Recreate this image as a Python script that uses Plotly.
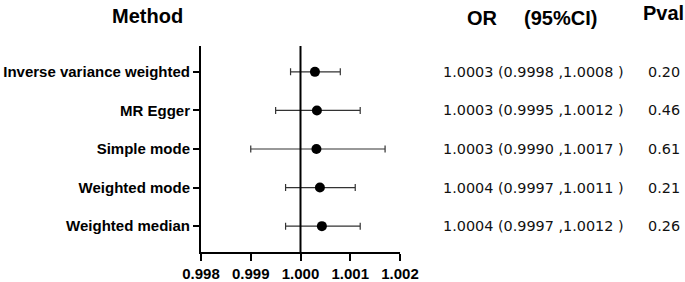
import plotly.graph_objects as go

methods = ["Inverse variance weighted", "MR Egger", "Simple mode", "Weighted mode", "Weighted median"]
or_est = [1.00029, 1.00033, 1.00032, 1.00039, 1.00043]
ci_low = [0.9998, 0.9995, 0.9990, 0.9997, 0.9997]
ci_high = [1.0008, 1.0012, 1.0017, 1.0011, 1.0012]
or_text = ["1.0003 (0.9998 ,1.0008 )", "1.0003 (0.9995 ,1.0012 )", "1.0003 (0.9990 ,1.0017 )",
           "1.0004 (0.9997 ,1.0011 )", "1.0004 (0.9997 ,1.0012 )"]
pvals = ["0.20", "0.46", "0.61", "0.21", "0.26"]
x_ticks = [0.998, 0.999, 1.000, 1.001, 1.002]

ypos = list(range(1, len(methods) + 1))

L, R, T, B = 201, 400, 46, 252  # plot area in window pixels
W, H = 685, 282

fig = go.Figure()
fig.add_trace(go.Scatter(
    x=or_est, y=ypos, mode="markers",
    marker=dict(color="black", size=10),
    error_x=dict(type="data", symmetric=False,
                 array=[h - e for h, e in zip(ci_high, or_est)],
                 arrayminus=[e - l for e, l in zip(or_est, ci_low)],
                 color="#333333", thickness=1.2, width=3.5),
    showlegend=False, hoverinfo="skip"))

fig.add_shape(type="line", x0=1.0, x1=1.0, y0=0, y1=1, xref="x", yref="paper",
              line=dict(color="black", width=2))


def px(xp):
    return (xp - L) / (R - L)


def py(yp):
    return (B - yp) / (B - T)


data_font = dict(family="DejaVu Sans", size=14.4, color="#111")
annotations = []
for y, t, p in zip(ypos, or_text, pvals):
    annotations.append(dict(x=px(533), y=y, xref="paper", yref="y", text=t, showarrow=False,
                            font=data_font, xanchor="center"))
    annotations.append(dict(x=px(664), y=y, xref="paper", yref="y", text=p, showarrow=False,
                            font=data_font, xanchor="center"))

hdr_font = dict(family="Liberation Sans", size=20, color="black")
annotations += [
    dict(x=px(147), y=py(16), xref="paper", yref="paper", text="<b>Method</b>",
         showarrow=False, font=hdr_font, xanchor="center", yanchor="middle"),
    dict(x=px(482), y=py(18), xref="paper", yref="paper", text="<b>OR</b>",
         showarrow=False, font=hdr_font, xanchor="center", yanchor="middle"),
    dict(x=px(560), y=py(18), xref="paper", yref="paper", text="<b>(95%CI)</b>",
         showarrow=False, font=hdr_font, xanchor="center", yanchor="middle"),
    dict(x=px(663), y=py(13), xref="paper", yref="paper", text="<b>Pval</b>",
         showarrow=False, font=hdr_font, xanchor="center", yanchor="middle"),
]

fig.update_layout(
    width=W, height=H,
    margin=dict(l=L, r=W - R, t=T, b=H - B, autoexpand=False),
    paper_bgcolor="white", plot_bgcolor="white",
    annotations=annotations,
    xaxis=dict(range=[0.998, 1.002], tickvals=x_ticks, ticktext=[f"{v:.3f}" for v in x_ticks],
               showgrid=False, zeroline=False, showline=True, linecolor="black", linewidth=2,
               ticks="outside", tickwidth=2, ticklen=7, tickcolor="black",
               tickfont=dict(family="Liberation Sans", size=15, color="black", weight="bold")),
    yaxis=dict(range=[5.67, 0.33], tickvals=ypos, ticktext=methods,
               showgrid=False, zeroline=False, showline=True, linecolor="black", linewidth=2,
               ticks="outside", tickwidth=2, ticklen=6, tickcolor="black",
               tickfont=dict(family="Liberation Sans", size=15, color="black", weight="bold")),
)

fig.write_html("out.html", config={"displayModeBar": False},
               post_script="document.body.style.margin='0';document.body.style.overflow='hidden';")
